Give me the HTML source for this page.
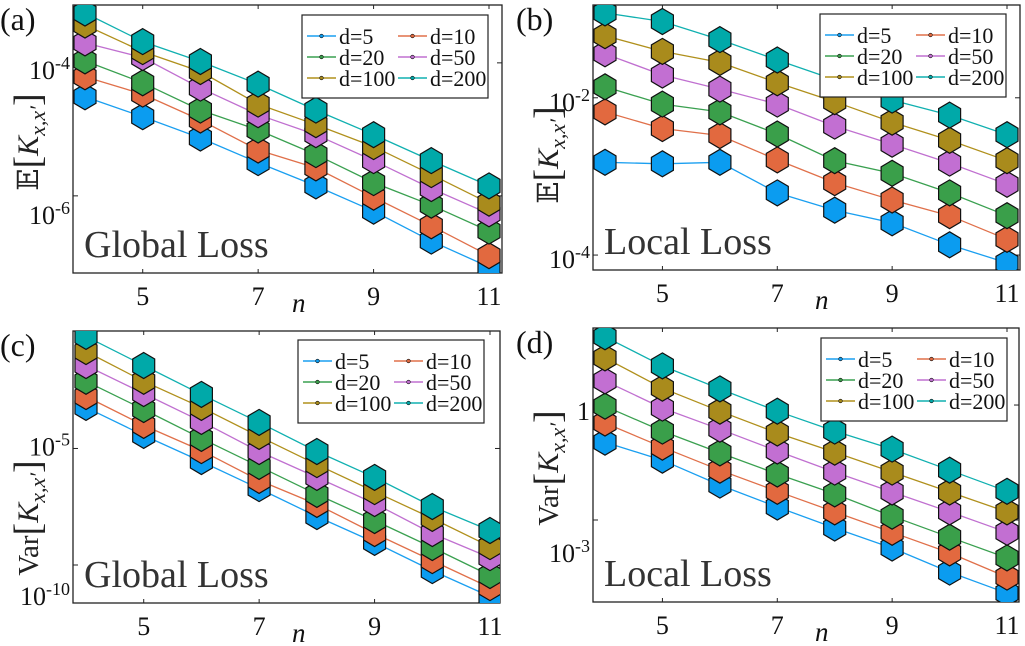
<!DOCTYPE html>
<html><head><meta charset="utf-8">
<style>
html,body{margin:0;padding:0;background:#fff;}
svg{display:block;font-family:"Liberation Serif","DejaVu Serif",serif;}
</style></head>
<body>
<svg id="fig" width="1025" height="646" viewBox="0 0 1025 646" xmlns="http://www.w3.org/2000/svg"></svg>
<script>
// ---- data (log10 of values) ----
const nVals = [4,5,6,7,8,9,10,11];
const seriesLabels = ["d=5","d=10","d=20","d=50","d=100","d=200"];
// Panel (a): E[K] global loss
const a_d5   = [-4.51,-4.81,-5.13,-5.50,-5.85,-6.23,-6.68,-7.07];
const a_d10  = [-4.21,-4.47,-4.86,-5.31,-5.58,-6.02,-6.45,-6.90];
const a_d20  = [-3.97,-4.30,-4.71,-5.01,-5.38,-5.80,-6.14,-6.53];
const a_d50  = [-3.70,-3.92,-4.38,-4.78,-5.08,-5.47,-5.89,-6.27];
const a_d100 = [-3.43,-3.83,-4.13,-4.62,-4.93,-5.26,-5.68,-6.11];
const a_d200 = [-3.25,-3.68,-3.98,-4.32,-4.71,-5.08,-5.47,-5.85];
// Panel (b): E[K] local loss
const b_d5   = [-2.82,-2.84,-2.82,-3.21,-3.43,-3.59,-3.87,-4.10];
const b_d10  = [-2.18,-2.39,-2.48,-2.79,-3.08,-3.30,-3.50,-3.80];
const b_d20  = [-1.86,-2.08,-2.18,-2.46,-2.80,-2.96,-3.21,-3.50];
const b_d50  = [-1.44,-1.71,-1.89,-2.08,-2.36,-2.59,-2.83,-3.10];
const b_d100 = [-1.21,-1.41,-1.55,-1.81,-2.05,-2.31,-2.54,-2.80];
const b_d200 = [-0.92,-1.03,-1.26,-1.52,-1.77,-2.03,-2.22,-2.47];
// Panel (c): Var[K] global loss
const c_d5   = [-3.24,-4.44,-5.56,-6.72,-7.92,-9.03,-10.24,-11.35];
const c_d10  = [-2.77,-4.01,-5.09,-6.37,-7.40,-8.65,-9.81,-10.97];
const c_d20  = [-2.12,-3.33,-4.57,-5.77,-6.97,-8.09,-9.25,-10.45];
const c_d50  = [-1.44,-2.64,-3.84,-5.13,-6.24,-7.36,-8.65,-9.68];
const c_d100 = [-0.84,-2.12,-3.24,-4.48,-5.69,-6.85,-8.00,-9.21];
const c_d200 = [-0.19,-1.44,-2.68,-3.88,-5.13,-6.24,-7.49,-8.52];
// Panel (d): Var[K] local loss
const d_d5   = [-0.97,-1.44,-2.09,-2.66,-3.21,-3.73,-4.36,-4.91];
const d_d10  = [-0.47,-1.10,-1.70,-2.25,-2.79,-3.32,-3.86,-4.49];
const d_d20  = [-0.03,-0.68,-1.25,-1.80,-2.32,-2.90,-3.45,-3.99];
const d_d50  = [0.63,-0.08,-0.63,-1.20,-1.75,-2.27,-2.79,-3.32];
const d_d100 = [1.23,0.44,-0.16,-0.73,-1.23,-1.75,-2.27,-2.79];
const d_d200 = [1.78,1.02,0.42,-0.16,-0.68,-1.15,-1.70,-2.25];
// tick data
const xTicks = [5,7,9,11];
const a_yTicks = [-4,-6];  const a_yTickLabels = ["-4","-6"];
const b_yTicks = [-2,-4];  const b_yTickLabels = ["-2","-4"];
const c_yTicks = [-5,-10]; const c_yTickLabels = ["-5","-10"];
const d_yTicks = [0,-3];   const d_yTickLabels = ["1","-3"];

const colors = ["#0b9cf0","#e2693f","#3a9f4a","#c26fd2","#a98b1c","#00a9a9"];
const lineColors = ["#1a9ff0","#e0704a","#3aa050","#c070d0","#b0901c","#10b0b0"];
const NS = "http://www.w3.org/2000/svg";
const svg = document.getElementById("fig");
function mk(tag, attrs, parent){
  const e = document.createElementNS(NS, tag);
  for (const k in attrs) e.setAttribute(k, attrs[k]);
  (parent||svg).appendChild(e);
  return e;
}

const panels = [
  {id:"a", label:"(a)", title:"𝔼", loss:"Global Loss", series:[a_d5,a_d10,a_d20,a_d50,a_d100,a_d200],
   ticks:a_yTicks, tickLabels:a_yTickLabels, box:[73,5,502,273], x4:85, x11:489, lt:-3.13, lb:-7.16,
   tdy:[7,19], legend:[302,15], titleY:142},
  {id:"b", label:"(b)", title:"𝔼", loss:"Local Loss", series:[b_d5,b_d10,b_d20,b_d50,b_d100,b_d200],
   ticks:b_yTicks, tickLabels:b_yTickLabels, box:[593,5,1020,270], x4:605, x11:1007, lt:-0.82, lb:-4.19,
   tdy:[4,4], legend:[820,14], titleY:155},
  {id:"c", label:"(c)", title:"Var", loss:"Global Loss", series:[c_d5,c_d10,c_d20,c_d50,c_d100,c_d200],
   ticks:c_yTicks, tickLabels:c_yTickLabels, box:[73,331,500,603], x4:86, x11:490, lt:0.04, lb:-11.63,
   tdy:[-2,31], legend:[298,340], titleY:518},
  {id:"d", label:"(d)", title:"Var", loss:"Local Loss", series:[d_d5,d_d10,d_d20,d_d50,d_d100,d_d200],
   ticks:d_yTicks, tickLabels:d_yTickLabels, box:[593,328,1019,602], x4:605, x11:1007, lt:2.01, lb:-5.14,
   tdy:[6,33], legend:[821,338], titleY:468}
];

function hexPts(cx, cy){
  const rx=11, ry=13, p=[];
  p.push([cx,cy-ry],[cx+rx,cy-ry/2],[cx+rx,cy+ry/2],[cx,cy+ry],[cx-rx,cy+ry/2],[cx-rx,cy-ry/2]);
  return p.map(q=>q[0].toFixed(1)+","+q[1].toFixed(1)).join(" ");
}

panels.forEach(P=>{
  const [L,T,R,B] = P.box;
  const g = mk("g",{});
  
  
  const xs = n => P.x4 + (n-4)*(P.x11-P.x4)/7;
  const ys = v => T + (P.lt - v)/(P.lt - P.lb)*(B-T);
  const clip = mk("clipPath",{id:"clip"+P.id},g);
  mk("rect",{x:L,y:T,width:R-L,height:B-T},clip);
  const fr = mk("rect",{x:L,y:T,width:R-L,height:B-T,fill:"none",stroke:"#222","stroke-width":1.3},g);
  
  
  xTicks.forEach(t=>{
    const x = xs(t);
    mk("line",{x1:x,y1:B,x2:x,y2:B-4,stroke:"#222","stroke-width":1},g);
    mk("line",{x1:x,y1:T,x2:x,y2:T+4,stroke:"#222","stroke-width":1},g);
    const tx = mk("text",{x:x,y:B+32,"font-size":26,"text-anchor":"middle",fill:"#111"},g);
    tx.textContent = t;
    
    
  });
  const nl = mk("text",{x:(P.id==="a"||P.id==="c")?292:815,y:B+39,"font-size":27,"font-style":"italic",fill:"#111"},g);
  nl.textContent = "n";
  
  
  P.ticks.forEach((t,i)=>{
    const y = ys(t);
    mk("line",{x1:L,y1:y,x2:L+5,y2:y,stroke:"#222","stroke-width":1},g);
    mk("line",{x1:R,y1:y,x2:R-5,y2:y,stroke:"#222","stroke-width":1},g);
    const tx = mk("text",{x:L-3,y:y+P.tdy[i]+9,"font-size":26,"text-anchor":"end",fill:"#111"},g);
    
    
    if (P.tickLabels[i]==="1"){ tx.textContent="1"; }
    else {
      const s1 = mk("tspan",{},tx); s1.textContent="10";
      const s2 = mk("tspan",{dy:-10,"font-size":18},tx); s2.textContent=P.tickLabels[i];
    }
  });
  const cx = (P.id==="a"||P.id==="c")?28:548;
  const yt = mk("text",{x:0,y:0,"font-size":29,"text-anchor":"middle",fill:"#222",
    transform:"translate("+(cx+10)+","+P.titleY+") rotate(-90)"},g);
  
  
  const t0 = mk("tspan",{},yt); t0.textContent = P.title;
  const t1 = mk("tspan",{"font-size":38,dy:2},yt); t1.textContent = "[";
  const t2 = mk("tspan",{"font-style":"italic","font-size":30,dy:-2},yt); t2.textContent="K";
  const t3 = mk("tspan",{"font-style":"italic","font-size":22,dy:7},yt); t3.textContent="x,x′";
  const t4 = mk("tspan",{"font-size":38,dy:-5},yt); t4.textContent="]";
  const ll = mk("text",{x:L+11,y:B-16,"font-size":38,fill:"#333"},g);
  ll.textContent = P.loss;
  
  
  const pl = mk("text",{x:(P.id==="a"||P.id==="c")?0:516,y:T+25,"font-size":32,fill:"#111"},g);
  pl.textContent = P.label;
  
  
  const sg = mk("g",{"clip-path":"url(#clip"+P.id+")"},g);
  P.series.forEach((vals,si)=>{
    const s = mk("g",{},sg);
    
    
    const pts = vals.map((v,i)=>xs(nVals[i]).toFixed(1)+","+ys(v).toFixed(1)).join(" ");
    mk("polyline",{points:pts,fill:"none",stroke:lineColors[si],"stroke-width":1.3},s);
    vals.forEach((v,i)=>{
      const h = mk("polygon",{points:hexPts(xs(nVals[i]),ys(v)),fill:colors[si],stroke:"#111","stroke-width":1.2},s);
      
      
    });
  });
  const [lx,ly] = P.legend;
  const lg = mk("g",{},g);
  
  
  mk("rect",{x:lx,y:ly,width:186,height:83,fill:"#fff",stroke:"#222","stroke-width":1.2},lg);
  seriesLabels.forEach((lab,si)=>{
    const col = si%2, row = Math.floor(si/2);
    const ex = lx+5+col*91, ey = ly+21+row*21;
    const e = mk("g",{},lg);
    
    
    mk("line",{x1:ex,y1:ey,x2:ex+29,y2:ey,stroke:lineColors[si],"stroke-width":1.6},e);
    mk("circle",{cx:ex+14.5,cy:ey,r:1.8,fill:colors[si],stroke:"#111","stroke-width":0.6},e);
    const tx = mk("text",{x:ex+32,y:ey+8,"font-size":22,fill:"#111"},e);
    tx.textContent = lab;
  });
});
</script>
</body></html>
